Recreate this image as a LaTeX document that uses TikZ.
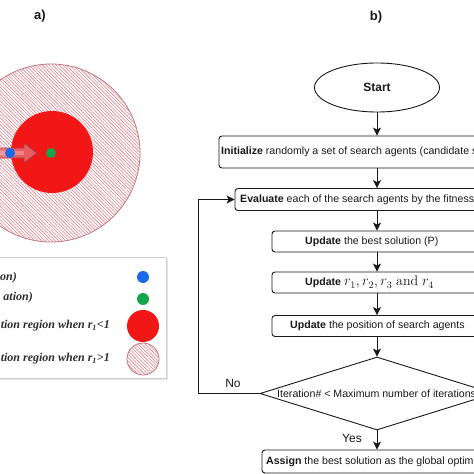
\documentclass[tikz,border=0pt]{standalone}
\usepackage{fontspec}
\setmainfont{Liberation Sans}
\newfontfamily\legfont{Liberation Serif}
\newfontfamily\lmr{Latin Modern Roman}
\usetikzlibrary{shapes.geometric,arrows.meta,patterns.meta}
\definecolor{hatch}{RGB}{222,130,140}
\definecolor{hatchline}{RGB}{195,120,130}
\definecolor{redfill}{RGB}{242,22,22}
\definecolor{bluedot}{RGB}{25,105,235}
\definecolor{greendot}{RGB}{20,165,75}
\definecolor{arrfill}{RGB}{232,105,110}
\definecolor{arrline}{RGB}{175,55,65}
\definecolor{legline}{RGB}{205,205,205}
\definecolor{legtext}{RGB}{45,45,45}
\definecolor{ink}{RGB}{25,25,25}
\tikzset{
  hatched/.style={pattern={Lines[angle=-45,distance=2.4pt,line width=0.6pt]},pattern color=hatch,draw=hatchline,line width=0.8pt},
  flowbox/.style={draw=ink,line width=0.9pt,rounded corners=3pt,rectangle,inner sep=0pt},
  flowtext/.style={anchor=west,inner sep=0pt,font=\fontsize{10.6}{12}\selectfont,text=ink},
  flowarr/.style={draw=ink,line width=0.9pt,-{Stealth[length=8pt,width=8pt,inset=2pt]}},
  legtxt/.style={anchor=east,inner sep=0pt,font=\legfont\bfseries\itshape\fontsize{12}{14}\selectfont,text=legtext},
  panel/.style={font=\bfseries\fontsize{13}{15}\selectfont,text=ink,inner sep=0pt},
  lbl/.style={font=\fontsize{12}{14}\selectfont,text=ink,inner sep=0pt}
}
\begin{document}
\begin{tikzpicture}[x=1pt,y=-1pt]
\useasboundingbox (0,0) rectangle (474,474);
\fill[white] (0,0) rectangle (474,474);
\clip (0,0) rectangle (474,474);

% ---------- panel a ----------
\node[panel] (pa) at (40,16) {a)};
\path[hatched] (51,153) circle[radius=89pt];
\fill[redfill] (52,152) circle[radius=41pt];
\path[fill=arrfill,fill opacity=0.85,draw=arrline,line width=0.8pt]
  (-5,148) -- (24,148) -- (24,143) -- (37,153) -- (24,163) -- (24,158) -- (-5,158) -- cycle;
\fill[white,opacity=0.25] (-5,151) -- (24,151) -- (24,155) -- (-5,155) -- cycle;
\fill[bluedot] (10,153) circle[radius=5pt];
\fill[greendot] (51,153) circle[radius=5pt];

% legend
\draw[legline,line width=0.8pt] (-5,257) -- (166,257) -- (166,378) -- (-5,378);
\draw[gray!20,line width=1pt] (167.3,259) -- (167.3,379.3) -- (-5,379.3);
\node[legtxt] (l1) at (17,278) {on)};
\node[legtxt] (l2) at (33,298) {ation)};
\node[legtxt] (l3) at (110,326) {tion region when r\textsubscript{1}<1};
\node[legtxt] (l4) at (110,359) {tion region when r\textsubscript{1}>1};
\fill[bluedot] (143,277) circle[radius=6pt];
\fill[greendot] (143,299) circle[radius=6pt];
\fill[redfill] (143,326) circle[radius=16pt];
\path[hatched] (143,359) circle[radius=16pt];

% ---------- panel b ----------
\node[panel] (pb) at (376,17) {b)};
\node[draw=ink,line width=0.9pt,ellipse,minimum width=125pt,minimum height=49pt,inner sep=0pt] (start) at (377,87.5) {};
\node[font=\bfseries\fontsize{12}{14}\selectfont,text=ink] (starttxt) at (377,87.5) {Start};

\node[flowbox,minimum width=316pt,minimum height=32pt] (init) at (377,152) {};
\node[flowtext] (inittxt) at (221,152) {\textbf{Initialize} randomly a set of search agents (candidate s};

\node[flowbox,minimum width=284pt,minimum height=22pt] (eval) at (377,199.5) {};
\node[flowtext] (evaltxt) at (240,199.5) {\textbf{Evaluate} each of the search agents by the fitness};

\node[flowbox,minimum width=210pt,minimum height=21pt] (best) at (377,241.5) {};
\node[flowtext] (besttxt) at (305,241.5) {\textbf{Update} the best solution (P)};

\node[flowbox,minimum width=210pt,minimum height=21pt] (upr) at (377,282.5) {};
\node[flowtext] (uprtxt) at (305,282.5) {\textbf{Update} {\fontsize{14}{15}\selectfont$r_1,r_2,r_3$\ {\lmr and}\ $r_4$}};

\node[flowbox,minimum width=210pt,minimum height=21pt] (pos) at (377,326) {};
\node[flowtext] (postxt) at (290,326) {\textbf{Update} the position of search agents};

\node[draw=ink,line width=0.9pt,diamond,minimum width=234pt,minimum height=73pt,inner sep=0pt] (dia) at (377,393.5) {};
\node[flowtext] (diatxt) at (277,393.5) {Iteration\# < Maximum number of iterations};

\node[flowbox,minimum width=230pt,minimum height=23pt] (assign) at (377,461.5) {};
\node[flowtext] (assigntxt) at (266,461.5) {\textbf{Assign} the best solution as the global optim};

\draw[flowarr] (start) -- (init);
\draw[flowarr] (init) -- (eval);
\draw[flowarr] (eval) -- (best);
\draw[flowarr] (best) -- (upr);
\draw[flowarr] (upr) -- (pos);
\draw[flowarr] (pos) -- (dia);
\draw[flowarr] (dia) -- (assign);
\coordinate (fb) at (198,300);
\draw[flowarr] (dia.west) -- (dia.west -| fb) -- (eval.west -| fb) -- (eval.west);
\node[lbl] (no) at (233,383) {No};
\node[lbl] (yes) at (352,438) {Yes};
\end{tikzpicture}
\end{document}
